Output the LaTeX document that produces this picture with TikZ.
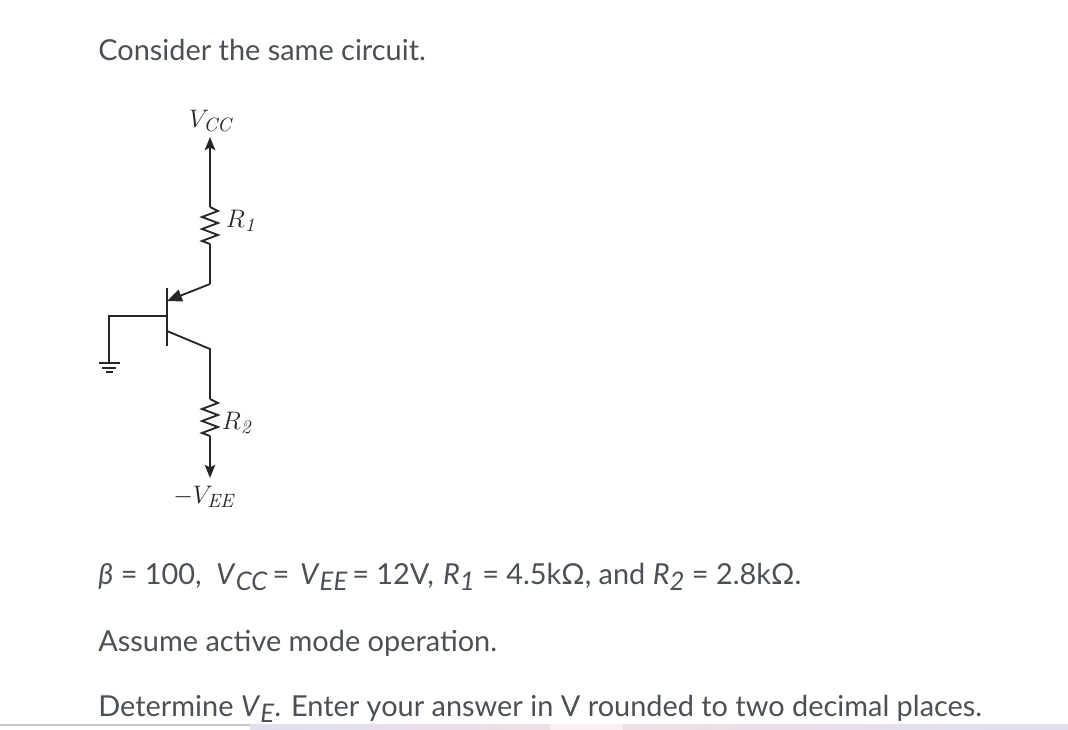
\documentclass[tikz,border=0pt]{standalone}
\usepackage[no-math]{fontspec}
\usepackage{xcolor}
\usepackage{amsmath}
\setmainfont{Lato}
\usetikzlibrary{arrows.meta,positioning,calc}
\definecolor{bodygray}{HTML}{4B4F56}
\definecolor{bandlilac}{HTML}{E0DFEE}
\definecolor{bandpink}{HTML}{EEDFE6}
\newcommand{\lowsub}[1]{\raisebox{-0.22em}{\fontsize{14.6pt}{16pt}\selectfont\textit{#1}}}
\newcommand{\zigzag}{-- ++(8,4) -- ++(-16,6) -- ++(16,6) -- ++(-16,6) -- ++(16,6) -- ++(-16,6) -- ++(8,3)}
\tikzset{
  wire/.style={line width=1.05pt, draw=black!85},
  tiparrow/.style={wire, -{Stealth[length=7.5pt,width=6pt,inset=1.5pt]}},
  bodytext/.style={anchor=base west, inner sep=0pt, text=bodygray, font=\fontsize{16.45pt}{20pt}\selectfont},
  circuitlabel/.style={inner sep=0pt, text=black!85, font=\fontsize{15pt}{18pt}\selectfont}
}

\begin{document}
\begin{tikzpicture}[x=0.02cm, y=-0.02cm]
  \useasboundingbox (0,0) rectangle (1068,730);

  % Question text
  \node[bodytext] (intro) at (98,60) {Consider the same circuit.};
  \node[bodytext] (given) at (98,584) {\textit{β} = 100,\hspace{4pt} \textit{V}\lowsub{CC}\,=\hspace{2pt} \textit{V}\lowsub{EE}\,= 12V,\hspace{1pt} \textit{R}\lowsub{1} = 4.5kΩ, and \textit{R}\lowsub{2} = 2.8kΩ.};
  \node[bodytext] (assume) at (98,651) {Assume active mode operation.};
  \node[bodytext] (ask) at (98,716) {Determine \textit{V}\lowsub{E}. Enter your answer in V rounded to two decimal places.};

  % Circuit points
  \coordinate (vcctip) at (210,137);
  \coordinate (r1top) at (210,207);
  \coordinate (r1bot) at (210,244);
  \coordinate (ekink) at (210,284);
  \coordinate (emit) at (167,301);
  \coordinate (bartop) at (167,288);
  \coordinate (barbot) at (167,346);
  \coordinate (base) at (167,316);
  \coordinate (gndcorner) at (109,316);
  \coordinate (gnd) at (109,363);
  \coordinate (coll) at (167,331);
  \coordinate (ckink) at (210,349);
  \coordinate (r2top) at (210,399);
  \coordinate (r2bot) at (210,436);
  \coordinate (veetip) at (210,478);

  % Upper branch
  \draw[tiparrow] (r1top) -- (vcctip);
  \draw[wire] (r1top) \zigzag;
  \draw[wire] (r1bot) -- (ekink);
  \draw[wire, -{Triangle[length=8.5pt,width=7pt]}] (ekink) -- (emit);

  % Transistor and base
  \draw[wire] (bartop) -- (barbot);
  \draw[wire] (base) -- (gndcorner) -- (gnd);
  \draw[wire] (coll) -- (ckink) -- (r2top);

  % Ground
  \draw[wire] ($(gnd)+(-10.5,0)$) -- ($(gnd)+(10.5,0)$);
  \draw[wire] ($(gnd)+(-7,5)$) -- ($(gnd)+(7,5)$);
  \draw[wire] ($(gnd)+(-3.5,9)$) -- ($(gnd)+(3.5,9)$);

  % Lower branch
  \draw[wire] (r2top) \zigzag;
  \draw[tiparrow] (r2bot) -- (veetip);

  % Circuit labels
  \node[circuitlabel] (vcc) at (212,121) {$V_{\mathit{CC}}$};
  \node[circuitlabel] (rone) at (242,221) {$R_{\mathit{1}}$};
  \node[circuitlabel] (rtwo) at (238,423) {$R_{\mathit{2}}$};
  \node[circuitlabel] (vee) at (205,497) {$-V_{\mathit{EE}}$};

  % Page edge at the bottom
  \fill[black!22] (0,724) rectangle (250,726);
  \fill[left color=bandlilac, right color=bandpink] (250,724) rectangle (550,730);
  \fill[bandpink!50] (550,724) rectangle (623,730);
  \fill[left color=bandpink, right color=bandlilac] (623,724) rectangle (1068,730);
\end{tikzpicture}
\end{document}
